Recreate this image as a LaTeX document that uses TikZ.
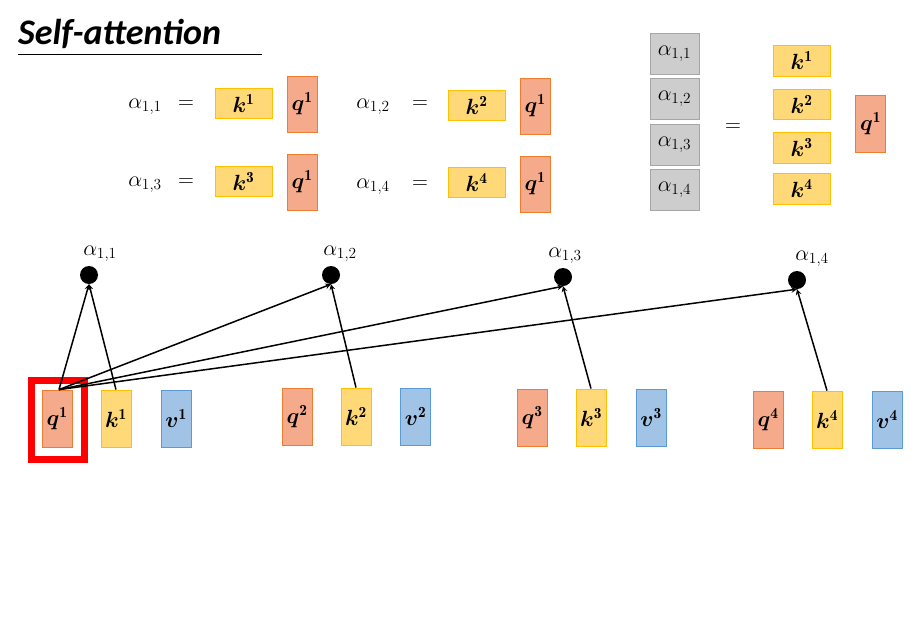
\documentclass[tikz,border=0pt]{standalone}
\usepackage{fix-cm}
\usepackage{amsmath}
\usepackage{bm}
\usepackage{fontspec}
\newfontfamily\carl{Carlito}
\definecolor{qf}{RGB}{245,170,140}
\definecolor{qd}{RGB}{237,125,49}
\definecolor{kf}{RGB}{255,217,120}
\definecolor{kd}{RGB}{255,192,0}
\definecolor{vf}{RGB}{160,195,230}
\definecolor{vd}{RGB}{91,155,213}
\definecolor{gf}{RGB}{205,205,205}
\definecolor{gd}{RGB}{166,166,166}
\tikzset{
 qb/.style={draw=qd, fill=qf, line width=0.8pt, minimum width=30pt, inner sep=0pt},
 kb/.style={draw=kd, fill=kf, line width=0.8pt, minimum width=30pt, inner sep=0pt},
 vb/.style={draw=vd, fill=vf, line width=0.8pt, minimum width=30pt, inner sep=0pt},
 gb/.style={draw=gd, fill=gf, line width=0.8pt, minimum width=49pt, minimum height=41pt, inner sep=0pt},
 dotn/.style={circle, fill=black, minimum size=18pt, inner sep=0pt},
 arr/.style={-stealth, line width=1.5pt},
 tx/.style={font=\fontsize{22}{24}\selectfont, inner sep=0pt},
}
\newcommand{\kk}[1]{$\bm{k}^{\mathbf{#1}}$}
\newcommand{\qq}[1]{$\bm{q}^{\mathbf{#1}}$}
\newcommand{\vv}[1]{$\bm{v}^{\mathbf{#1}}$}
\newcommand{\al}[1]{$\alpha_{1,#1}$}
\begin{document}
\begin{tikzpicture}[x=1pt,y=-1pt]
\useasboundingbox (0,0) rectangle (923,637);
% title
\node[anchor=base west, inner sep=0pt, font=\carl\bfseries\itshape\fontsize{36}{40}\selectfont] (title) at (18,44) {Self-attention};
\draw[line width=1pt] (18,54) -- (262,54);
% equations
\node[tx] (e1) at (145,107) {\al1}; \node[tx] (eq1) at (186,105) {$=$};
\node[kb, minimum width=57pt, minimum height=30pt, tx] (ek1) at (243.5,103) {\kk1};
\node[qb, minimum height=56pt, tx] (eq11) at (302,104) {\qq1};
\node[tx] (e2) at (373,107) {\al2}; \node[tx] (eq2) at (420,105) {$=$};
\node[kb, minimum width=57pt, minimum height=30pt, tx] (ek2) at (476.5,105) {\kk2};
\node[qb, minimum height=56pt, tx] (eq12) at (535,106) {\qq1};
\node[tx] (e3) at (145,185) {\al3}; \node[tx] (eq3) at (186,183) {$=$};
\node[kb, minimum width=57pt, minimum height=30pt, tx] (ek3) at (243.5,181) {\kk3};
\node[qb, minimum height=56pt, tx] (eq13) at (302,182) {\qq1};
\node[tx] (e4) at (373,187) {\al4}; \node[tx] (eq4) at (420,185) {$=$};
\node[kb, minimum width=57pt, minimum height=30pt, tx] (ek4) at (476.5,182) {\kk4};
\node[qb, minimum height=56pt, tx] (eq14) at (535,184) {\qq1};
% matrix form
\node[gb, tx] (g1) at (674.5,53.5) {\al1};
\node[gb, tx] (g2) at (674.5,99) {\al2};
\node[gb, tx] (g3) at (674.5,144.5) {\al3};
\node[gb, tx] (g4) at (674.5,189.5) {\al4};
\node[tx] (meq) at (733,128) {$=$};
\node[kb, minimum width=57pt, minimum height=31pt, tx] (mk1) at (801.5,60.5) {\kk1};
\node[kb, minimum width=57pt, minimum height=30pt, tx] (mk2) at (801.5,104) {\kk2};
\node[kb, minimum width=57pt, minimum height=31pt, tx] (mk3) at (801.5,147.5) {\kk3};
\node[kb, minimum width=57pt, minimum height=31pt, tx] (mk4) at (801.5,188.5) {\kk4};
\node[qb, minimum height=57pt, tx] (mq) at (870.5,123.5) {\qq1};
% bottom row
\node[qb, minimum height=57pt, tx] (q1) at (57,418.5) {\qq1};
\node[kb, minimum height=57pt, tx] (k1) at (116,418.5) {\kk1};
\node[vb, minimum height=57pt, tx] (v1) at (176,418.5) {\vv1};
\node[qb, minimum height=57pt, tx] (q2) at (297,416.5) {\qq2};
\node[kb, minimum height=57pt, tx] (k2) at (356,416.5) {\kk2};
\node[vb, minimum height=57pt, tx] (v2) at (415.5,416.5) {\vv2};
\node[qb, minimum height=57pt, tx] (q3) at (532,417.5) {\qq3};
\node[kb, minimum height=57pt, tx] (k3) at (591,417.5) {\kk3};
\node[vb, minimum height=57pt, tx] (v3) at (651,417.5) {\vv3};
\node[qb, minimum height=57pt, tx] (q4) at (768,419.5) {\qq4};
\node[kb, minimum height=57pt, tx] (k4) at (827,419.5) {\kk4};
\node[vb, minimum height=57pt, tx] (v4) at (887,419.5) {\vv4};
\draw[red, line width=7pt] (31,380.5) rectangle (84,459);
% dots
\node[dotn] (a1) at (89,275) {}; \node[tx, anchor=south] (la1) at (100,262) {\al1};
\node[dotn] (a2) at (331,275) {}; \node[tx, anchor=south] (la2) at (340,262) {\al2};
\node[dotn] (a3) at (563,277) {}; \node[tx, anchor=south] (la3) at (565,264) {\al3};
\node[dotn] (a4) at (797,280) {}; \node[tx, anchor=south] (la4) at (812,267) {\al4};
\coordinate (qs) at ([xshift=2pt]q1.north);
\draw[arr] (qs) -- (a1.south);
\draw[arr] (qs) -- (a2.south);
\draw[arr] (qs) -- (a3.south);
\draw[arr] (qs) -- (a4.south);
\draw[arr] (k1.north) -- (a1.south);
\draw[arr] (k2.north) -- (a2.south);
\draw[arr] (k3.north) -- (a3.south);
\draw[arr] (k4.north) -- (a4.south);
\end{tikzpicture}
\end{document}
